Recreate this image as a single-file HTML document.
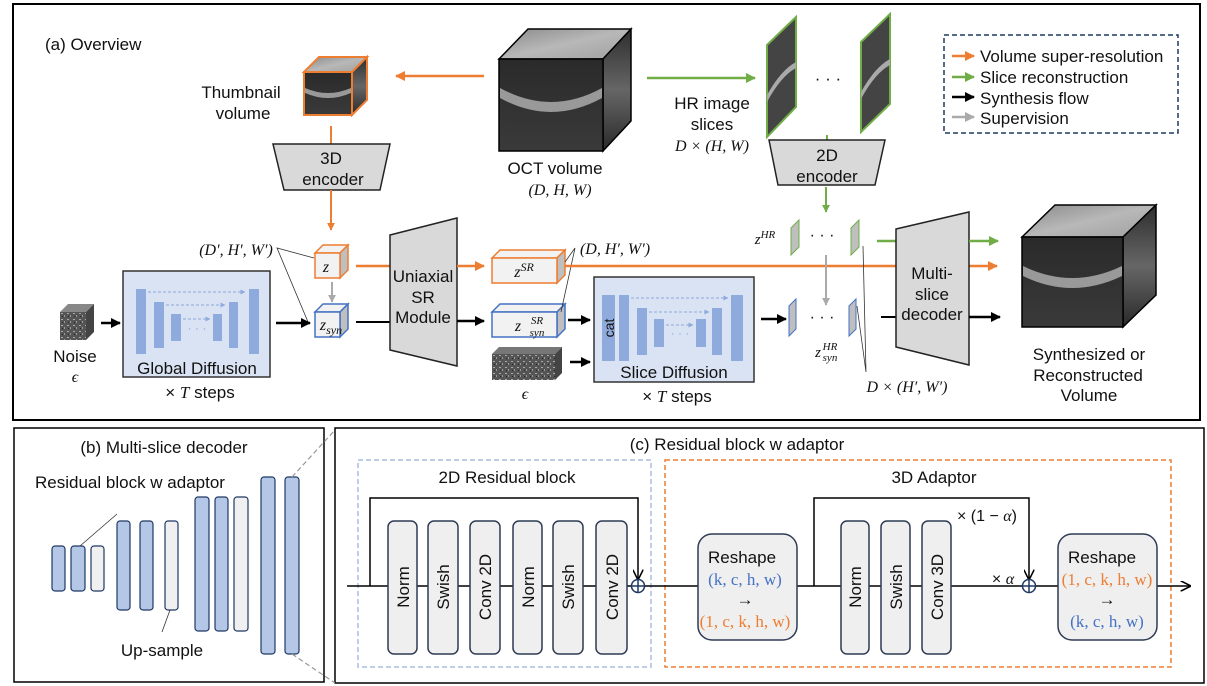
<!DOCTYPE html>
<html><head><meta charset="utf-8"><style>
html,body{margin:0;padding:0;background:#fff}
svg{display:block}
text{font-family:"Liberation Sans",sans-serif;fill:#111}
.m{font-family:"Liberation Serif",serif;font-style:italic}
</style></head><body>
<svg width="1207" height="686" viewBox="0 0 1207 686" xmlns="http://www.w3.org/2000/svg">
<defs>
<marker id="ao" viewBox="0 0 10 10" refX="9" refY="5" markerWidth="4" markerHeight="4" orient="auto"><path d="M0,0L10,5L0,10z" fill="#ed7d31"/></marker>
<marker id="ag" viewBox="0 0 10 10" refX="9" refY="5" markerWidth="4" markerHeight="4" orient="auto"><path d="M0,0L10,5L0,10z" fill="#70ad47"/></marker>
<marker id="ak" viewBox="0 0 10 10" refX="9" refY="5" markerWidth="4" markerHeight="4" orient="auto"><path d="M0,0L10,5L0,10z" fill="#000"/></marker>
<marker id="ay" viewBox="0 0 10 10" refX="9" refY="5" markerWidth="4" markerHeight="4" orient="auto"><path d="M0,0L10,5L0,10z" fill="#aaa"/></marker>
<marker id="ab" viewBox="0 0 10 10" refX="9" refY="5" markerWidth="5" markerHeight="5" orient="auto"><path d="M0,0L10,5L0,10z" fill="#8faadc"/></marker>
<marker id="av" viewBox="0 0 10 10" refX="9" refY="5" markerWidth="7" markerHeight="7" orient="auto"><path d="M0,0L10,5L0,10" fill="none" stroke="#000" stroke-width="1.5"/></marker>
<linearGradient id="front" x1="0" y1="0" x2="0" y2="1">
<stop offset="0" stop-color="#2a2a2a"/><stop offset="1" stop-color="#3a3a3a"/></linearGradient>
<linearGradient id="top" x1="0" y1="0" x2="1" y2="1"><stop offset="0" stop-color="#8a8a8a"/><stop offset="0.5" stop-color="#b8b8b8"/><stop offset="1" stop-color="#a0a0a0"/></linearGradient>
<linearGradient id="side" x1="0" y1="0" x2="0" y2="1"><stop offset="0" stop-color="#2e2e2e"/><stop offset="0.5" stop-color="#666"/><stop offset="1" stop-color="#2a2a2a"/></linearGradient>
<pattern id="noise" width="6" height="6" patternUnits="userSpaceOnUse"><rect width="6" height="6" fill="#555"/><rect x="1" y="1" width="2" height="1" fill="#aaa"/><rect x="4" y="3" width="1" height="2" fill="#999"/><rect x="2" y="4" width="1" height="1" fill="#222"/></pattern>
</defs>

<!-- Panel borders -->
<rect x="13" y="4" width="1187" height="416" fill="none" stroke="#000" stroke-width="2"/>
<rect x="14" y="428" width="310" height="254" fill="none" stroke="#000" stroke-width="1.5"/>
<rect x="335" y="428" width="869" height="255" fill="none" stroke="#000" stroke-width="1.5"/>

<text x="45" y="50" font-size="17">(a) Overview</text>

<!-- Thumbnail cube -->
<polygon points="304,72 319,57 367,57 352,72" fill="url(#top)" stroke="#ed7d31" stroke-width="2"/>
<polygon points="352,72 367,57 367,100 352,115" fill="url(#side)" stroke="#ed7d31" stroke-width="2"/>
<rect x="304" y="72" width="48" height="43" fill="url(#front)" stroke="#ed7d31" stroke-width="2"/>
<path d="M305,88 Q328,98 351,88 L351,93 Q328,103 305,93z" fill="#999"/>
<text x="241" y="98" font-size="17" text-anchor="middle">Thumbnail</text>
<text x="243" y="119" font-size="17" text-anchor="middle">volume</text>
<line x1="484" y1="76" x2="396" y2="76" stroke="#ed7d31" stroke-width="2.5" marker-end="url(#ao)"/>

<!-- OCT volume -->
<polygon points="499,59 528,29 631,29 603,59" fill="url(#top)" stroke="#000" stroke-width="1.5"/>
<polygon points="603,59 631,29 631,121 603,151" fill="url(#side)" stroke="#000" stroke-width="1.5"/>
<rect x="499" y="59" width="104" height="92" fill="url(#front)" stroke="#000" stroke-width="1.5"/>
<path d="M500,88 Q551,116 602,88 L602,98 Q551,126 500,98z" fill="#999"/>
<text x="555" y="174" font-size="17" text-anchor="middle">OCT volume</text>
<text x="560" y="195" font-size="16" text-anchor="middle" class="m">(D, H, W)</text>

<!-- 3D encoder -->
<line x1="331" y1="126" x2="331" y2="144" stroke="#ed7d31" stroke-width="2"/>
<polygon points="273,144 390,144 380,190 284,190" fill="#d9d9d9" stroke="#222" stroke-width="1.5"/>
<text x="331" y="164" font-size="17" text-anchor="middle">3D</text>
<text x="333" y="185" font-size="17" text-anchor="middle">encoder</text>
<line x1="331" y1="190" x2="331" y2="230" stroke="#ed7d31" stroke-width="2" marker-end="url(#ao)"/>

<!-- z cubes -->
<polygon points="315,253 323,245 348,245 340,253" fill="#f2f2f2" stroke="#ed7d31" stroke-width="1.5"/>
<polygon points="340,253 348,245 348,270 340,278" fill="#bfbfbf" stroke="#ed7d31" stroke-width="1.5"/>
<rect x="315" y="253" width="25" height="25" fill="#f2f2f2" stroke="#ed7d31" stroke-width="1.5"/>
<text x="326" y="272" font-size="16" text-anchor="middle" class="m">z</text>
<line x1="332" y1="282" x2="332" y2="302" stroke="#aaa" stroke-width="2" marker-end="url(#ay)"/>
<polygon points="315,312 323,304 348,304 340,312" fill="#f2f2f2" stroke="#4472c4" stroke-width="1.5"/>
<polygon points="340,312 348,304 348,329 340,337" fill="#bfbfbf" stroke="#4472c4" stroke-width="1.5"/>
<rect x="315" y="312" width="25" height="25" fill="#f2f2f2" stroke="#4472c4" stroke-width="1.5"/>
<text x="331" y="330" font-size="16" text-anchor="middle" class="m">z<tspan font-size="12" dy="4">syn</tspan></text>
<text x="236" y="255" font-size="16" text-anchor="middle" class="m">(D′, H′, W′)</text>
<polyline points="314,258 277,248 308,322" fill="none" stroke="#333" stroke-width="0.8"/>

<!-- Noise & global diffusion -->
<polygon points="60,312 68,304 94,304 86,312" fill="#888"/>
<polygon points="86,312 94,304 94,332 86,340" fill="#444"/>
<rect x="60" y="312" width="26" height="28" fill="url(#noise)"/>
<text x="75" y="362" font-size="17" text-anchor="middle">Noise</text>
<text x="75" y="382" font-size="16" text-anchor="middle" class="m">ϵ</text>
<line x1="101" y1="323" x2="120" y2="323" stroke="#000" stroke-width="2.5" marker-end="url(#ak)"/>
<rect x="123" y="271" width="147" height="106" fill="#dae3f3" stroke="#333" stroke-width="1.5"/>
<rect x="136" y="289" width="10" height="65" fill="#8faadc"/>
<rect x="154" y="302" width="10" height="46" fill="#8faadc"/>
<rect x="171" y="314" width="10" height="27" fill="#8faadc"/>
<rect x="213" y="314" width="9" height="27" fill="#8faadc"/>
<rect x="229" y="302" width="9" height="46" fill="#8faadc"/>
<rect x="249" y="289" width="10" height="65" fill="#8faadc"/>
<g stroke="#8faadc" stroke-width="1" stroke-dasharray="3,2" fill="none">
<line x1="148" y1="292" x2="245" y2="292" marker-end="url(#ab)"/>
<line x1="166" y1="305" x2="225" y2="305" marker-end="url(#ab)"/>
<line x1="183" y1="319" x2="210" y2="319" marker-end="url(#ab)"/></g>
<text x="197" y="332" font-size="12" text-anchor="middle" style="fill:#8faadc">· · ·</text>
<text x="197" y="374" font-size="17" text-anchor="middle">Global Diffusion</text>
<text x="200" y="398" font-size="17" text-anchor="middle">× <tspan class="m">T</tspan> steps</text>
<line x1="276" y1="323" x2="310" y2="323" stroke="#000" stroke-width="2.5" marker-end="url(#ak)"/>

<!-- SR module -->
<line x1="356" y1="266" x2="390" y2="266" stroke="#ed7d31" stroke-width="2.5"/>
<line x1="356" y1="322" x2="390" y2="322" stroke="#000" stroke-width="2"/>
<polygon points="390,235 457,218 457,366 390,350" fill="#d9d9d9" stroke="#222" stroke-width="1.5"/>
<text x="423" y="282" font-size="17" text-anchor="middle">Uniaxial</text>
<text x="423" y="303" font-size="17" text-anchor="middle">SR</text>
<text x="423" y="323" font-size="17" text-anchor="middle">Module</text>
<line x1="457" y1="266" x2="484" y2="266" stroke="#ed7d31" stroke-width="2.5" marker-end="url(#ao)"/>
<line x1="457" y1="321" x2="484" y2="321" stroke="#000" stroke-width="2.5" marker-end="url(#ak)"/>

<!-- z^SR boxes -->
<polygon points="492,258 500,250 565,250 557,258" fill="#f2f2f2" stroke="#ed7d31" stroke-width="1.5"/>
<polygon points="557,258 565,250 565,275 557,283" fill="#bfbfbf" stroke="#ed7d31" stroke-width="1.5"/>
<rect x="492" y="258" width="65" height="25" fill="#f2f2f2" stroke="#ed7d31" stroke-width="1.5"/>
<text x="524" y="277" font-size="16" text-anchor="middle" class="m">z<tspan font-size="12" dy="-6">SR</tspan></text>
<polygon points="492,312 500,304 565,304 557,312" fill="#f2f2f2" stroke="#4472c4" stroke-width="1.5"/>
<polygon points="557,312 565,304 565,329 557,337" fill="#bfbfbf" stroke="#4472c4" stroke-width="1.5"/>
<rect x="492" y="312" width="65" height="25" fill="#f2f2f2" stroke="#4472c4" stroke-width="1.5"/>
<text x="518" y="331" font-size="16" text-anchor="middle" class="m">z</text>
<text x="537" y="324" font-size="11" text-anchor="middle" class="m">SR</text>
<text x="537" y="336" font-size="11" text-anchor="middle" class="m">syn</text>
<polygon points="492,354 499,347 562,347 555,354" fill="#777"/>
<polygon points="555,354 562,347 562,373 555,380" fill="#444"/>
<rect x="492" y="354" width="63" height="26" fill="url(#noise)"/>
<text x="525" y="399" font-size="16" text-anchor="middle" class="m">ϵ</text>
<text x="615" y="254" font-size="16" text-anchor="middle" class="m">(D, H′, W′)</text>
<polyline points="565,262 575,248 561,312" fill="none" stroke="#333" stroke-width="0.8"/>
<line x1="565" y1="266" x2="997" y2="266" stroke="#ed7d31" stroke-width="2.5" marker-end="url(#ao)"/>
<line x1="568" y1="320" x2="590" y2="320" stroke="#000" stroke-width="2.5" marker-end="url(#ak)"/>
<line x1="570" y1="362" x2="590" y2="362" stroke="#000" stroke-width="2.5" marker-end="url(#ak)"/>

<!-- Slice Diffusion -->
<rect x="594" y="277" width="160" height="105" fill="#dae3f3" stroke="#333" stroke-width="1.5"/>
<rect x="602" y="295" width="13" height="66" fill="#8faadc"/>
<text transform="translate(614,328) rotate(-90)" font-size="14" text-anchor="middle">cat</text>
<rect x="619" y="295" width="10" height="66" fill="#8faadc"/>
<rect x="637" y="308" width="10" height="47" fill="#8faadc"/>
<rect x="654" y="319" width="10" height="28" fill="#8faadc"/>
<rect x="696" y="319" width="10" height="28" fill="#8faadc"/>
<rect x="712" y="308" width="10" height="47" fill="#8faadc"/>
<rect x="731" y="295" width="12" height="66" fill="#8faadc"/>
<g stroke="#8faadc" stroke-width="1" stroke-dasharray="3,2" fill="none">
<line x1="631" y1="298" x2="728" y2="298" marker-end="url(#ab)"/>
<line x1="649" y1="312" x2="709" y2="312" marker-end="url(#ab)"/>
<line x1="666" y1="325" x2="693" y2="325" marker-end="url(#ab)"/></g>
<text x="680" y="337" font-size="12" text-anchor="middle" style="fill:#8faadc">· · ·</text>
<text x="674" y="378" font-size="17" text-anchor="middle">Slice Diffusion</text>
<text x="677" y="402" font-size="17" text-anchor="middle">× <tspan class="m">T</tspan> steps</text>
<line x1="761" y1="319" x2="786" y2="319" stroke="#000" stroke-width="2.5" marker-end="url(#ak)"/>

<!-- z_syn^HR slices -->
<polygon points="789,306 796,299 796,329 789,336" fill="#bfbfbf" stroke="#4472c4" stroke-width="1"/>
<polygon points="849,306 856,299 856,329 849,336" fill="#bfbfbf" stroke="#4472c4" stroke-width="1"/>
<text x="822" y="322" font-size="16" text-anchor="middle">· · ·</text>
<text x="818" y="357" font-size="15" text-anchor="middle" class="m">z</text>
<text x="830" y="350" font-size="11" text-anchor="middle" class="m">HR</text>
<text x="830" y="361" font-size="11" text-anchor="middle" class="m">syn</text>

<!-- z^HR slices -->
<polygon points="791,228 799,220 799,247 791,255" fill="#bfbfbf" stroke="#70ad47" stroke-width="1"/>
<polygon points="851,228 859,220 859,247 851,255" fill="#bfbfbf" stroke="#70ad47" stroke-width="1"/>
<text x="822" y="240" font-size="16" text-anchor="middle">· · ·</text>
<text x="765" y="244" font-size="15" text-anchor="middle" class="m">z<tspan font-size="11" dy="-6">HR</tspan></text>
<line x1="826" y1="255" x2="826" y2="305" stroke="#aaa" stroke-width="2" marker-end="url(#ay)"/>
<polyline points="863,246 866,372 857,306" fill="none" stroke="#333" stroke-width="0.8"/>
<text x="907" y="392" font-size="16" text-anchor="middle" class="m">D × (H′, W′)</text>

<!-- HR slices top -->
<line x1="647" y1="78" x2="755" y2="78" stroke="#70ad47" stroke-width="2.5" marker-end="url(#ag)"/>
<polygon points="767,45 796,17 796,107 767,137" fill="#444" stroke="#70ad47" stroke-width="2"/>
<polygon points="861,42 890,14 890,104 861,132" fill="#444" stroke="#70ad47" stroke-width="2"/>
<path d="M767,95 Q781,70 796,62 L796,68 Q781,76 767,102z" fill="#aaa"/>
<path d="M861,92 Q875,67 890,59 L890,65 Q875,73 861,99z" fill="#aaa"/>
<text x="828" y="84" font-size="17" text-anchor="middle">· · ·</text>
<text x="712" y="109" font-size="17" text-anchor="middle">HR image</text>
<text x="712" y="130" font-size="17" text-anchor="middle">slices</text>
<text x="712" y="151" font-size="16" text-anchor="middle" class="m">D × (H, W)</text>

<!-- 2D encoder -->
<line x1="827" y1="135" x2="827" y2="140" stroke="#70ad47" stroke-width="2"/>
<polygon points="769,140 885,140 875,185 778,185" fill="#d9d9d9" stroke="#222" stroke-width="1.5"/>
<text x="827" y="161" font-size="17" text-anchor="middle">2D</text>
<text x="827" y="182" font-size="17" text-anchor="middle">encoder</text>
<line x1="826" y1="187" x2="826" y2="212" stroke="#70ad47" stroke-width="2" marker-end="url(#ag)"/>

<!-- Legend -->
<rect x="944" y="35" width="234" height="98" fill="none" stroke="#1f3864" stroke-width="1.5" stroke-dasharray="5,3"/>
<line x1="952" y1="56" x2="974" y2="56" stroke="#ed7d31" stroke-width="2.5" marker-end="url(#ao)"/>
<line x1="952" y1="77" x2="974" y2="77" stroke="#70ad47" stroke-width="2.5" marker-end="url(#ag)"/>
<line x1="952" y1="97" x2="974" y2="97" stroke="#000" stroke-width="2.5" marker-end="url(#ak)"/>
<line x1="952" y1="117" x2="974" y2="117" stroke="#aaa" stroke-width="2.5" marker-end="url(#ay)"/>
<text x="980" y="62" font-size="17">Volume super-resolution</text>
<text x="980" y="83" font-size="17">Slice reconstruction</text>
<text x="980" y="104" font-size="17">Synthesis flow</text>
<text x="980" y="124" font-size="17">Supervision</text>

<!-- Multi-slice decoder -->
<line x1="877" y1="241" x2="896" y2="241" stroke="#70ad47" stroke-width="2.5"/>
<line x1="881" y1="317" x2="896" y2="317" stroke="#000" stroke-width="2"/>
<polygon points="896,229 969,212 969,365 896,347" fill="#d9d9d9" stroke="#222" stroke-width="1.5"/>
<text x="932" y="279" font-size="17" text-anchor="middle">Multi-</text>
<text x="932" y="300" font-size="17" text-anchor="middle">slice</text>
<text x="932" y="320" font-size="17" text-anchor="middle">decoder</text>
<line x1="969" y1="241" x2="998" y2="241" stroke="#70ad47" stroke-width="2.5" marker-end="url(#ag)"/>
<line x1="969" y1="317" x2="1000" y2="317" stroke="#000" stroke-width="2.5" marker-end="url(#ak)"/>

<!-- Output cube -->
<polygon points="1022,237 1055,205 1156,205 1123,237" fill="url(#top)" stroke="#000" stroke-width="1.5"/>
<polygon points="1123,237 1156,205 1156,295 1123,327" fill="url(#side)" stroke="#000" stroke-width="1.5"/>
<rect x="1022" y="237" width="101" height="90" fill="url(#front)" stroke="#000" stroke-width="1.5"/>
<path d="M1023,266 Q1072,290 1122,266 L1122,276 Q1072,300 1023,276z" fill="#999"/>
<text x="1089" y="360" font-size="17" text-anchor="middle">Synthesized or</text>
<text x="1088" y="381" font-size="17" text-anchor="middle">Reconstructed</text>
<text x="1089" y="401" font-size="17" text-anchor="middle">Volume</text>

<!-- Panel (b) -->
<text x="164" y="453" font-size="17" text-anchor="middle">(b) Multi-slice decoder</text>
<text x="130" y="488" font-size="17" text-anchor="middle">Residual block w adaptor</text>
<g stroke="#1f3864" stroke-width="1.2">
<rect x="52" y="546" width="13" height="45" rx="3" fill="#b4c7e7"/>
<rect x="71" y="546" width="14" height="45" rx="3" fill="#b4c7e7"/>
<rect x="91" y="546" width="13" height="45" rx="3" fill="#f0f0f0"/>
<rect x="117" y="521" width="13" height="89" rx="3" fill="#b4c7e7"/>
<rect x="140" y="521" width="13" height="89" rx="3" fill="#b4c7e7"/>
<rect x="165" y="521" width="13" height="89" rx="3" fill="#f0f0f0"/>
<rect x="195" y="497" width="14" height="134" rx="3" fill="#b4c7e7"/>
<rect x="215" y="497" width="13" height="134" rx="3" fill="#b4c7e7"/>
<rect x="234" y="497" width="14" height="134" rx="3" fill="#f0f0f0"/>
<rect x="261" y="477" width="14" height="177" rx="3" fill="#b4c7e7"/>
<rect x="285" y="477" width="14" height="177" rx="3" fill="#b4c7e7"/>
</g>
<line x1="80" y1="546" x2="117" y2="514" stroke="#333" stroke-width="0.8"/>
<line x1="170" y1="610" x2="162" y2="632" stroke="#333" stroke-width="0.8"/>
<text x="162" y="656" font-size="17" text-anchor="middle">Up-sample</text>
<line x1="292" y1="477" x2="335" y2="430" stroke="#999" stroke-width="1.2" stroke-dasharray="5,3"/>
<line x1="292" y1="654" x2="335" y2="683" stroke="#999" stroke-width="1.2" stroke-dasharray="5,3"/>

<!-- Panel (c) -->
<text x="737" y="450" font-size="17" text-anchor="middle">(c) Residual block w adaptor</text>
<rect x="358" y="460" width="293" height="207" fill="none" stroke="#a9bde0" stroke-width="1.5" stroke-dasharray="5,3"/>
<rect x="665" y="460" width="506" height="207" fill="none" stroke="#ed7d31" stroke-width="1.5" stroke-dasharray="5,3"/>
<text x="507" y="483" font-size="17" text-anchor="middle">2D Residual block</text>
<text x="934" y="483" font-size="17" text-anchor="middle">3D Adaptor</text>
<line x1="347" y1="586" x2="1190" y2="586" stroke="#000" stroke-width="1.5" marker-end="url(#av)"/>
<polyline points="370,586 370,498 638,498 638,579" fill="none" stroke="#000" stroke-width="1.5" marker-end="url(#av)"/>
<circle cx="638" cy="586" r="6.5" fill="#fff" stroke="#1f3864" stroke-width="1.5"/>
<line x1="631.5" y1="586" x2="644.5" y2="586" stroke="#1f3864" stroke-width="1.5"/><line x1="638" y1="579.5" x2="638" y2="592.5" stroke="#1f3864" stroke-width="1.5"/>
<polyline points="814,586 814,498 1029,498 1029,579" fill="none" stroke="#000" stroke-width="1.5" marker-end="url(#av)"/>
<circle cx="1029" cy="586" r="6.5" fill="#fff" stroke="#1f3864" stroke-width="1.5"/>
<line x1="1022.5" y1="586" x2="1035.5" y2="586" stroke="#1f3864" stroke-width="1.5"/><line x1="1029" y1="579.5" x2="1029" y2="592.5" stroke="#1f3864" stroke-width="1.5"/>
<text x="987" y="521" font-size="16" text-anchor="middle">× (1 − <tspan class="m">α</tspan>)</text>
<text x="1003" y="584" font-size="16" text-anchor="middle">× <tspan class="m">α</tspan></text>
<g fill="#efefef" stroke="#2f3b55" stroke-width="1.5">
<rect x="388" y="521" width="29" height="133" rx="6"/>
<rect x="428" y="521" width="30" height="133" rx="6"/>
<rect x="470" y="521" width="30" height="133" rx="6"/>
<rect x="513" y="521" width="29" height="133" rx="6"/>
<rect x="553" y="521" width="30" height="133" rx="6"/>
<rect x="596" y="521" width="31" height="133" rx="6"/>
<rect x="841" y="521" width="28" height="133" rx="6"/>
<rect x="881" y="521" width="29" height="133" rx="6"/>
<rect x="922" y="521" width="29" height="133" rx="6"/>
<rect x="698" y="534" width="99" height="106" rx="14"/>
<rect x="1058" y="534" width="99" height="106" rx="14"/>
</g>
<g font-size="17" text-anchor="middle">
<text transform="translate(409,587) rotate(-90)">Norm</text>
<text transform="translate(449,587) rotate(-90)">Swish</text>
<text transform="translate(491,587) rotate(-90)">Conv 2D</text>
<text transform="translate(534,587) rotate(-90)">Norm</text>
<text transform="translate(574,587) rotate(-90)">Swish</text>
<text transform="translate(618,587) rotate(-90)">Conv 2D</text>
<text transform="translate(861,587) rotate(-90)">Norm</text>
<text transform="translate(902,587) rotate(-90)">Swish</text>
<text transform="translate(943,587) rotate(-90)">Conv 3D</text>
<text x="742" y="563">Reshape</text>
<text x="745" y="585" style="fill:#4472c4;font-family:'Liberation Serif',serif">(k, c, h, w)</text>
<text x="745" y="605">→</text>
<text x="745" y="627" style="fill:#ed7d31;font-family:'Liberation Serif',serif">(1, c, k, h, w)</text>
<text x="1102" y="563">Reshape</text>
<text x="1107" y="585" style="fill:#ed7d31;font-family:'Liberation Serif',serif">(1, c, k, h, w)</text>
<text x="1107" y="605">→</text>
<text x="1107" y="627" style="fill:#4472c4;font-family:'Liberation Serif',serif">(k, c, h, w)</text>
</g>
</svg>
</body></html>
